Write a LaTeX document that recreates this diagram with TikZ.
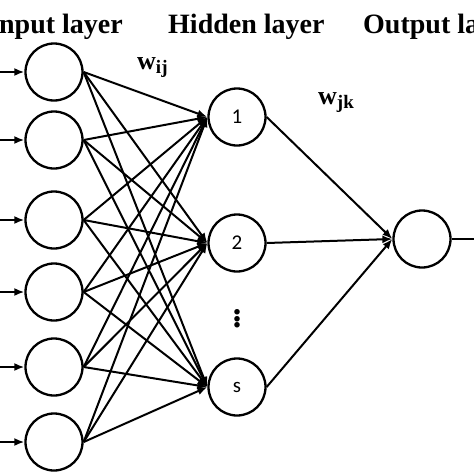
\documentclass[tikz,border=0pt]{standalone}
\usepackage{fontspec}
\setmainfont{Liberation Serif}
\newfontfamily\numfont{Carlito}
\usetikzlibrary{arrows.meta}
\tikzset{
  neuron/.style={
    draw=black,
    circle,
    line width=2.3pt,
    fill=white,
    minimum size=57pt,
    inner sep=0pt,
    font=\numfont\fontsize{21}{21}\selectfont
  },
  edge/.style={-{Latex[length=10pt,width=8pt]}, line width=2pt},
  layertitle/.style={font=\bfseries\fontsize{28}{28}\selectfont, inner sep=0pt},
  weight/.style={font=\bfseries\fontsize{26}{26}\selectfont, inner sep=0pt}
}

\begin{document}
\begin{tikzpicture}[x=1pt, y=-1pt]
  \useasboundingbox (0,0) rectangle (474,474);
  % input layer
  \node[neuron] (in1) at (54,72) {};
  \node[neuron] (in2) at (54,140) {};
  \node[neuron] (in3) at (54,220) {};
  \node[neuron] (in4) at (54,292) {};
  \node[neuron] (in5) at (54,367) {};
  \node[neuron] (in6) at (54,442) {};
  % hidden layer
  \node[neuron] (h1) at (237,117) {1};
  \node[neuron] (h2) at (237,243) {2};
  \node[neuron] (hs) at (237,387) {s};
  \node[font=\bfseries\fontsize{34}{34}\selectfont, inner sep=0pt] (hdots) at (237,316) {$\vdots$};
  % output layer
  \node[neuron] (out) at (422,239) {};
  \coordinate (outend) at (474,239);
  % titles
  \node[layertitle, anchor=base east] (tin) at (123,33) {Input layer};
  \node[layertitle, anchor=base west] (thid) at (168,33) {Hidden layer};
  \node[layertitle, anchor=base west] (tout) at (363,33) {Output layer};
  \node[weight, anchor=base west] (wij) at (137,69) {w\textsubscript{\fontsize{19}{19}\selectfont ij}};
  \node[weight, anchor=base west] (wjk) at (318,104) {w\textsubscript{\fontsize{19}{19}\selectfont jk}};
  % inputs
  \coordinate (x1) at (0,72);
  \coordinate (x2) at (0,140);
  \coordinate (x3) at (0,220);
  \coordinate (x4) at (0,292);
  \coordinate (x5) at (0,367);
  \coordinate (x6) at (0,442);
  \draw[edge] (x1) -- (in1.west);
  \draw[edge] (x2) -- (in2.west);
  \draw[edge] (x3) -- (in3.west);
  \draw[edge] (x4) -- (in4.west);
  \draw[edge] (x5) -- (in5.west);
  \draw[edge] (x6) -- (in6.west);
  % input -> hidden
  \draw[edge] (in1.east) -- (h1.west);
  \draw[edge] (in1.east) -- (h2.west);
  \draw[edge] (in1.east) -- (hs.west);
  \draw[edge] (in2.east) -- (h1.west);
  \draw[edge] (in2.east) -- (h2.west);
  \draw[edge] (in2.east) -- (hs.west);
  \draw[edge] (in3.east) -- (h1.west);
  \draw[edge] (in3.east) -- (h2.west);
  \draw[edge] (in3.east) -- (hs.west);
  \draw[edge] (in4.east) -- (h1.west);
  \draw[edge] (in4.east) -- (h2.west);
  \draw[edge] (in4.east) -- (hs.west);
  \draw[edge] (in5.east) -- (h1.west);
  \draw[edge] (in5.east) -- (h2.west);
  \draw[edge] (in5.east) -- (hs.west);
  \draw[edge] (in6.east) -- (h1.west);
  \draw[edge] (in6.east) -- (h2.west);
  \draw[edge] (in6.east) -- (hs.west);
  % hidden -> output
  \draw[edge] (h1.east) -- (out.west);
  \draw[edge] (h2.east) -- (out.west);
  \draw[edge] (hs.east) -- (out.west);
  \draw[line width=2pt] (out.east) -- (outend);
\end{tikzpicture}
\end{document}
